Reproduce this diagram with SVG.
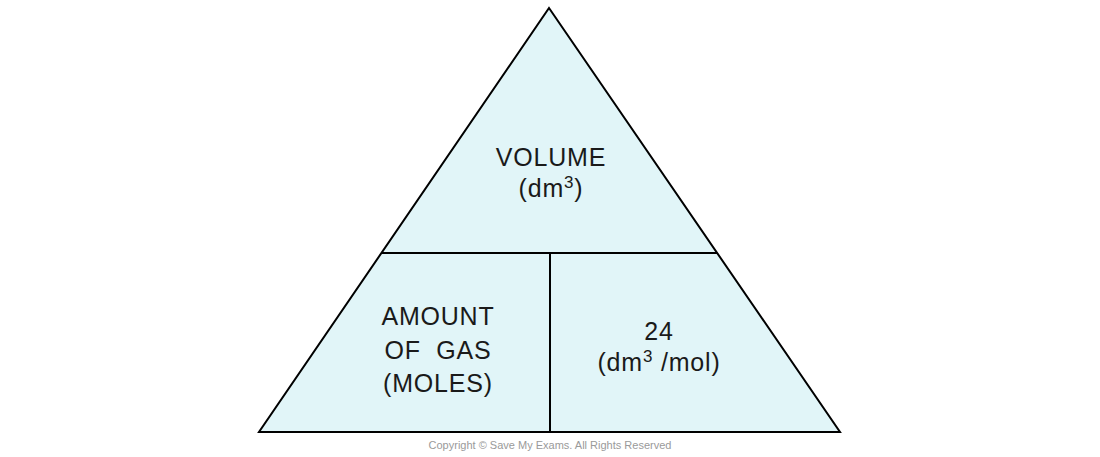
<svg xmlns="http://www.w3.org/2000/svg" width="1100" height="457" viewBox="0 0 1100 457">
<style>
.edge{stroke:#000;stroke-width:2;fill:none;stroke-linejoin:miter}
.lbl{font-family:"Liberation Sans",Arial,sans-serif;font-size:25px;fill:#1a1a1a;text-anchor:middle;letter-spacing:0.8px}
.sup{font-size:17px}
.copy{font-family:"Liberation Sans",Arial,sans-serif;font-size:11px;fill:#9a9a9a;text-anchor:middle}
</style>
<rect width="1100" height="457" fill="#fff"/>
<g id="triangle">
<polygon points="549,8 840,432 259,432" fill="#e1f5f8" stroke="#000" stroke-width="2"/>
</g>
<g id="connectors">
<line class="edge" x1="382" y1="253" x2="717" y2="253"/>
<line class="edge" x1="550" y1="253" x2="550" y2="432"/>
</g>
<g id="node-volume">
<text class="lbl" x="551" y="166">VOLUME</text>
<text class="lbl" x="551" y="197">(dm<tspan class="sup" dy="-9">3</tspan><tspan dy="9">)</tspan></text>
</g>
<g id="node-amount">
<text class="lbl" x="438" y="325">AMOUNT</text>
<text class="lbl" x="438" y="359" xml:space="preserve">OF  GAS</text>
<text class="lbl" x="438" y="392">(MOLES)</text>
</g>
<g id="node-molar">
<text class="lbl" x="659" y="340">24</text>
<text class="lbl" x="659" y="371">(dm<tspan class="sup" dy="-9">3</tspan><tspan dy="9"> /mol)</tspan></text>
</g>
<text class="copy" x="550" y="449">Copyright © Save My Exams. All Rights Reserved</text>
</svg>
